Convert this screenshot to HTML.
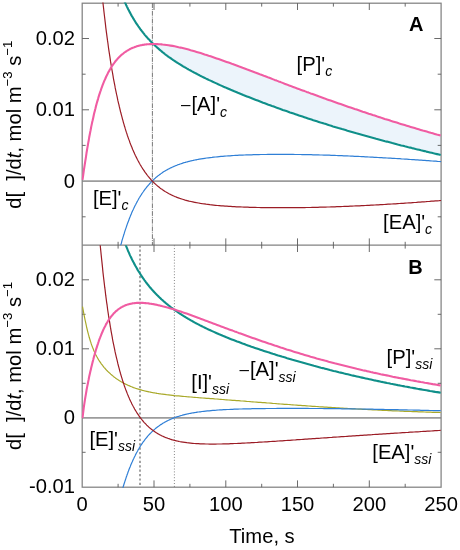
<!DOCTYPE html>
<html><head><meta charset="utf-8"><title>Figure</title><style>html,body{margin:0;padding:0;background:#fff}svg{display:block}</style></head><body>
<svg width="460" height="550" viewBox="0 0 460 550">
<defs><clipPath id="ca"><rect x="81.6" y="2.6" width="360.1" height="242.6"/></clipPath><clipPath id="cb"><rect x="81.6" y="245.2" width="360.1" height="242.6"/></clipPath></defs>
<rect width="460" height="550" fill="#fff"/>
<path d="M152.3 44.0 L154.2 44.0 L156.2 44.1 L158.1 44.1 L160.1 44.3 L162.0 44.4 L163.9 44.7 L165.9 44.9 L167.8 45.2 L169.7 45.5 L171.7 45.8 L173.6 46.1 L175.6 46.5 L177.5 46.9 L179.4 47.4 L181.4 47.8 L183.3 48.3 L185.3 48.7 L187.2 49.2 L189.1 49.8 L191.1 50.3 L193.0 50.8 L194.9 51.4 L196.9 52.0 L198.8 52.6 L200.8 53.2 L202.7 53.8 L204.6 54.4 L206.6 55.0 L208.5 55.6 L210.4 56.3 L212.4 56.9 L214.3 57.6 L216.3 58.3 L218.2 58.9 L220.1 59.6 L222.1 60.3 L224.0 61.0 L226.0 61.7 L227.9 62.4 L229.8 63.1 L231.8 63.8 L233.7 64.5 L235.6 65.2 L237.6 65.9 L239.5 66.6 L241.5 67.3 L243.4 68.1 L245.3 68.8 L247.3 69.5 L249.2 70.2 L251.2 71.0 L253.1 71.7 L255.0 72.4 L257.0 73.2 L258.9 73.9 L260.8 74.6 L262.8 75.4 L264.7 76.1 L266.7 76.9 L268.6 77.6 L270.5 78.3 L272.5 79.1 L274.4 79.8 L276.3 80.5 L278.3 81.3 L280.2 82.0 L282.2 82.7 L284.1 83.5 L286.0 84.2 L288.0 84.9 L289.9 85.7 L291.9 86.4 L293.8 87.1 L295.7 87.8 L297.7 88.6 L299.6 89.3 L301.5 90.0 L303.5 90.7 L305.4 91.4 L307.4 92.1 L309.3 92.9 L311.2 93.6 L313.2 94.3 L315.1 95.0 L317.1 95.7 L319.0 96.4 L320.9 97.1 L322.9 97.8 L324.8 98.5 L326.7 99.2 L328.7 99.9 L330.6 100.6 L332.6 101.3 L334.5 102.0 L336.4 102.6 L338.4 103.3 L340.3 104.0 L342.2 104.7 L344.2 105.4 L346.1 106.0 L348.1 106.7 L350.0 107.4 L351.9 108.0 L353.9 108.7 L355.8 109.4 L357.8 110.0 L359.7 110.7 L361.6 111.3 L363.6 112.0 L365.5 112.6 L367.4 113.3 L369.4 113.9 L371.3 114.5 L373.3 115.2 L375.2 115.8 L377.1 116.4 L379.1 117.1 L381.0 117.7 L383.0 118.3 L384.9 118.9 L386.8 119.5 L388.8 120.2 L390.7 120.8 L392.6 121.4 L394.6 122.0 L396.5 122.6 L398.5 123.2 L400.4 123.8 L402.3 124.4 L404.3 125.0 L406.2 125.6 L408.1 126.1 L410.1 126.7 L412.0 127.3 L414.0 127.9 L415.9 128.5 L417.8 129.0 L419.8 129.6 L421.7 130.2 L423.7 130.7 L425.6 131.3 L427.5 131.9 L429.5 132.4 L431.4 133.0 L433.3 133.5 L435.3 134.1 L437.2 134.6 L439.2 135.1 L441.1 135.6 L441.1 154.9 L439.2 154.6 L437.2 154.1 L435.3 153.7 L433.3 153.2 L431.4 152.8 L429.5 152.3 L427.5 151.8 L425.6 151.4 L423.7 150.9 L421.7 150.5 L419.8 150.0 L417.8 149.5 L415.9 149.0 L414.0 148.6 L412.0 148.1 L410.1 147.6 L408.1 147.1 L406.2 146.6 L404.3 146.1 L402.3 145.7 L400.4 145.2 L398.5 144.7 L396.5 144.2 L394.6 143.7 L392.6 143.2 L390.7 142.7 L388.8 142.1 L386.8 141.6 L384.9 141.1 L383.0 140.6 L381.0 140.1 L379.1 139.6 L377.1 139.0 L375.2 138.5 L373.3 138.0 L371.3 137.5 L369.4 136.9 L367.4 136.4 L365.5 135.8 L363.6 135.3 L361.6 134.8 L359.7 134.2 L357.8 133.7 L355.8 133.1 L353.9 132.5 L351.9 132.0 L350.0 131.4 L348.1 130.9 L346.1 130.3 L344.2 129.7 L342.2 129.1 L340.3 128.6 L338.4 128.0 L336.4 127.4 L334.5 126.8 L332.6 126.2 L330.6 125.6 L328.7 125.0 L326.7 124.4 L324.8 123.8 L322.9 123.2 L320.9 122.6 L319.0 122.0 L317.1 121.4 L315.1 120.7 L313.2 120.1 L311.2 119.5 L309.3 118.9 L307.4 118.2 L305.4 117.6 L303.5 116.9 L301.5 116.3 L299.6 115.6 L297.7 115.0 L295.7 114.3 L293.8 113.7 L291.9 113.0 L289.9 112.3 L288.0 111.7 L286.0 111.0 L284.1 110.3 L282.2 109.6 L280.2 108.9 L278.3 108.2 L276.3 107.6 L274.4 106.9 L272.5 106.1 L270.5 105.4 L268.6 104.7 L266.7 104.0 L264.7 103.3 L262.8 102.6 L260.8 101.8 L258.9 101.1 L257.0 100.3 L255.0 99.6 L253.1 98.8 L251.2 98.1 L249.2 97.3 L247.3 96.6 L245.3 95.8 L243.4 95.0 L241.5 94.2 L239.5 93.4 L237.6 92.6 L235.6 91.8 L233.7 91.0 L231.8 90.2 L229.8 89.4 L227.9 88.5 L226.0 87.7 L224.0 86.9 L222.1 86.0 L220.1 85.1 L218.2 84.3 L216.3 83.4 L214.3 82.5 L212.4 81.6 L210.4 80.7 L208.5 79.8 L206.6 78.8 L204.6 77.9 L202.7 76.9 L200.8 75.9 L198.8 75.0 L196.9 74.0 L194.9 72.9 L193.0 71.9 L191.1 70.9 L189.1 69.8 L187.2 68.7 L185.3 67.6 L183.3 66.4 L181.4 65.3 L179.4 64.1 L177.5 62.8 L175.6 61.6 L173.6 60.3 L171.7 59.0 L169.7 57.6 L167.8 56.2 L165.9 54.8 L163.9 53.3 L162.0 51.7 L160.1 50.1 L158.1 48.4 L156.2 46.7 L154.2 44.9 L152.3 43.0 Z" fill="#ecf4fb" stroke="none"/>
<path d="M82.2 181.1H441.1M82.2 417.8H441.1" stroke="#9c9c9c" stroke-width="1.8" fill="none"/>
<g stroke="#828282" stroke-width="1.25" fill="none">
<rect x="82.2" y="3.2" width="358.9" height="484.0"/>
<line x1="82.2" x2="441.1" y1="245.2" y2="245.2"/>
</g>
<path d="M118.1 3.2v3.4M118.1 241.8v6.8M118.1 487.2v-3.4M154.0 3.2v6.8M154.0 238.4v13.6M154.0 487.2v-6.8M189.9 3.2v3.4M189.9 241.8v6.8M189.9 487.2v-3.4M225.8 3.2v6.8M225.8 238.4v13.6M225.8 487.2v-6.8M261.7 3.2v3.4M261.7 241.8v6.8M261.7 487.2v-3.4M297.5 3.2v6.8M297.5 238.4v13.6M297.5 487.2v-6.8M333.4 3.2v3.4M333.4 241.8v6.8M333.4 487.2v-3.4M369.3 3.2v6.8M369.3 238.4v13.6M369.3 487.2v-6.8M405.2 3.2v3.4M405.2 241.8v6.8M405.2 487.2v-3.4M82.2 38.5h6.8M441.1 38.5h-6.8M82.2 74.2h3.4M441.1 74.2h-3.4M82.2 109.8h6.8M441.1 109.8h-6.8M82.2 145.4h3.4M441.1 145.4h-3.4M82.2 216.8h3.4M441.1 216.8h-3.4M82.2 279.8h6.8M441.1 279.8h-6.8M82.2 314.3h3.4M441.1 314.3h-3.4M82.2 348.8h6.8M441.1 348.8h-6.8M82.2 383.3h3.4M441.1 383.3h-3.4M82.2 452.3h3.4M441.1 452.3h-3.4" stroke="#5a5a5a" stroke-width="0.9" fill="none"/>
<g clip-path="url(#ca)" fill="none" stroke-linejoin="round">
<line x1="152.4" x2="152.4" y1="3.2" y2="245.2" stroke="#555" stroke-width="0.8" stroke-dasharray="4.8 1 0.9 1"/>
<path d="M118.2 255.2 L118.9 252.5 L119.5 249.8 L120.0 248.1 L120.2 247.2 L120.9 244.7 L121.6 242.3 L121.8 241.4 L122.2 239.9 L122.9 237.6 L123.6 235.4 L123.6 235.3 L124.3 233.2 L124.9 231.1 L125.4 229.6 L125.6 229.1 L126.3 227.1 L126.9 225.2 L127.2 224.4 L127.6 223.3 L128.3 221.5 L129.0 219.7 L129.0 219.5 L129.6 218.0 L130.3 216.3 L130.8 215.0 L131.0 214.7 L131.6 213.1 L132.3 211.6 L132.6 210.8 L133.0 210.1 L133.7 208.6 L134.3 207.2 L134.4 207.0 L135.0 205.8 L135.7 204.5 L136.2 203.4 L136.4 203.2 L137.0 201.9 L137.7 200.7 L138.0 200.1 L138.4 199.5 L139.0 198.3 L139.7 197.2 L139.8 197.0 L140.4 196.1 L141.1 195.0 L141.7 194.1 L141.7 194.0 L142.4 193.0 L143.1 192.0 L143.5 191.5 L143.7 191.1 L144.4 190.1 L145.1 189.2 L145.3 189.0 L145.8 188.3 L146.4 187.5 L147.1 186.7 L147.1 186.6 L147.8 185.8 L148.5 185.0 L148.9 184.6 L149.1 184.3 L149.8 183.5 L150.5 182.8 L150.7 182.6 L151.1 182.1 L151.8 181.4 L152.5 180.7 L152.5 180.7 L153.2 180.1 L153.8 179.4 L154.3 179.0 L154.5 178.8 L155.2 178.2 L155.8 177.6 L156.1 177.4 L156.5 177.0 L157.2 176.5 L157.9 175.9 L157.9 175.9 L158.5 175.4 L159.2 174.9 L159.7 174.5 L159.9 174.4 L160.6 173.9 L161.2 173.4 L161.5 173.2 L161.9 173.0 L162.6 172.5 L163.2 172.1 L163.3 172.0 L163.9 171.6 L164.6 171.2 L165.1 170.9 L165.3 170.8 L165.9 170.4 L166.6 170.0 L166.9 169.9 L167.3 169.7 L167.9 169.3 L168.6 168.9 L168.7 168.9 L169.3 168.6 L170.0 168.2 L170.5 168.0 L170.6 167.9 L171.3 167.6 L172.0 167.3 L172.3 167.1 L172.7 167.0 L173.3 166.7 L174.0 166.4 L174.1 166.3 L174.7 166.1 L175.3 165.8 L175.9 165.6 L176.0 165.5 L176.7 165.3 L177.4 165.0 L177.7 164.9 L178.0 164.7 L178.7 164.5 L179.4 164.3 L179.5 164.2 L180.0 164.0 L180.7 163.8 L181.3 163.6 L181.4 163.6 L182.1 163.4 L182.7 163.1 L183.1 163.0 L183.4 162.9 L184.1 162.7 L184.8 162.5 L184.9 162.5 L185.4 162.3 L186.1 162.1 L186.7 162.0 L186.8 162.0 L187.4 161.8 L188.1 161.6 L188.6 161.5 L188.8 161.4 L189.5 161.3 L190.1 161.1 L190.4 161.0 L190.8 160.9 L191.5 160.8 L192.1 160.6 L192.2 160.6 L192.8 160.5 L193.5 160.3 L194.0 160.2 L194.2 160.2 L194.8 160.0 L195.5 159.9 L195.8 159.9 L196.2 159.8 L196.9 159.6 L197.5 159.5 L197.6 159.5 L198.2 159.4 L199.4 159.2 L201.2 158.9 L203.0 158.6 L204.8 158.3 L206.6 158.0 L208.4 157.8 L210.2 157.6 L212.0 157.4 L213.8 157.1 L215.6 157.0 L217.4 156.8 L219.2 156.6 L221.0 156.4 L222.8 156.3 L224.6 156.1 L226.4 156.0 L228.2 155.9 L230.0 155.8 L231.8 155.6 L233.7 155.5 L235.5 155.4 L237.3 155.3 L239.1 155.2 L240.9 155.2 L242.7 155.1 L244.5 155.0 L246.3 154.9 L248.1 154.9 L249.9 154.8 L251.7 154.8 L253.5 154.7 L255.3 154.7 L257.1 154.6 L258.9 154.6 L260.7 154.5 L262.5 154.5 L264.3 154.5 L266.1 154.5 L267.9 154.4 L269.7 154.4 L271.5 154.4 L273.3 154.4 L275.1 154.4 L276.9 154.4 L278.7 154.4 L280.6 154.4 L282.4 154.4 L284.2 154.4 L286.0 154.4 L287.8 154.4 L289.6 154.4 L291.4 154.4 L293.2 154.4 L295.0 154.5 L296.8 154.5 L298.6 154.5 L300.4 154.5 L302.2 154.6 L304.0 154.6 L305.8 154.6 L307.6 154.7 L309.4 154.7 L311.2 154.7 L313.0 154.8 L314.8 154.8 L316.6 154.9 L318.4 154.9 L320.2 155.0 L322.0 155.0 L323.8 155.1 L325.6 155.1 L327.5 155.2 L329.3 155.2 L331.1 155.3 L332.9 155.4 L334.7 155.4 L336.5 155.5 L338.3 155.6 L340.1 155.6 L341.9 155.7 L343.7 155.8 L345.5 155.9 L347.3 155.9 L349.1 156.0 L350.9 156.1 L352.7 156.2 L354.5 156.3 L356.3 156.3 L358.1 156.4 L359.9 156.5 L361.7 156.6 L363.5 156.7 L365.3 156.8 L367.1 156.9 L368.9 157.0 L370.7 157.1 L372.6 157.2 L374.4 157.3 L376.2 157.4 L378.0 157.5 L379.8 157.6 L381.6 157.7 L383.4 157.8 L385.2 157.9 L387.0 158.0 L388.8 158.1 L390.6 158.2 L392.4 158.3 L394.2 158.4 L396.0 158.5 L397.8 158.6 L399.6 158.7 L401.4 158.9 L403.2 159.0 L405.0 159.1 L406.8 159.2 L408.6 159.3 L410.4 159.5 L412.2 159.6 L414.0 159.7 L415.8 159.8 L417.6 159.9 L419.5 160.1 L421.3 160.2 L423.1 160.3 L424.9 160.4 L426.7 160.6 L428.5 160.7 L430.3 160.8 L432.1 161.0 L433.9 161.1 L435.7 161.2 L437.5 161.4 L439.3 161.5 L441.1 161.6" stroke="#2f7fd6" stroke-width="1.2"/>
<path d="M101.8 -9.0 L102.5 -2.3 L103.1 4.2 L103.7 9.3 L103.8 10.4 L104.5 16.3 L105.2 22.1 L105.6 25.6 L105.8 27.6 L106.5 32.9 L107.2 38.1 L107.5 40.4 L107.9 43.0 L108.5 47.8 L109.2 52.4 L109.4 53.7 L109.9 56.9 L110.5 61.2 L111.2 65.4 L111.3 65.8 L111.9 69.5 L112.6 73.4 L113.2 76.9 L113.2 77.2 L113.9 80.9 L114.6 84.4 L115.1 87.0 L115.2 87.9 L115.9 91.2 L116.6 94.5 L117.0 96.2 L117.3 97.6 L117.9 100.7 L118.6 103.6 L118.9 104.7 L119.3 106.5 L120.0 109.3 L120.6 112.0 L120.8 112.5 L121.3 114.6 L122.0 117.2 L122.6 119.7 L122.7 119.7 L123.3 122.1 L124.0 124.4 L124.5 126.3 L124.7 126.7 L125.3 128.9 L126.0 131.1 L126.4 132.4 L126.7 133.2 L127.3 135.2 L128.0 137.1 L128.3 138.1 L128.7 139.1 L129.4 140.9 L130.0 142.7 L130.2 143.2 L130.7 144.5 L131.4 146.2 L132.1 147.8 L132.1 148.0 L132.7 149.5 L133.4 151.0 L134.0 152.4 L134.1 152.5 L134.7 154.0 L135.4 155.5 L135.9 156.5 L136.1 156.9 L136.8 158.2 L137.4 159.5 L137.8 160.3 L138.1 160.8 L138.8 162.1 L139.4 163.3 L139.7 163.8 L140.1 164.5 L140.8 165.6 L141.5 166.7 L141.6 167.0 L142.1 167.8 L142.8 168.9 L143.5 169.9 L143.5 169.9 L144.2 170.9 L144.8 171.9 L145.4 172.7 L145.5 172.8 L146.2 173.7 L146.8 174.6 L147.3 175.2 L147.5 175.5 L148.2 176.4 L148.9 177.2 L149.2 177.6 L149.5 178.0 L150.2 178.7 L150.9 179.5 L151.1 179.7 L151.5 180.2 L152.2 181.0 L152.9 181.6 L153.0 181.7 L153.6 182.3 L154.2 183.0 L154.9 183.6 L154.9 183.6 L155.6 184.2 L156.3 184.9 L156.8 185.3 L156.9 185.4 L157.6 186.0 L158.3 186.6 L158.7 186.9 L158.9 187.1 L159.6 187.6 L160.3 188.2 L160.6 188.4 L161.0 188.7 L161.6 189.1 L162.3 189.6 L162.5 189.7 L163.0 190.1 L163.6 190.5 L164.3 191.0 L164.4 191.0 L165.0 191.4 L165.7 191.8 L166.2 192.1 L166.3 192.2 L167.0 192.6 L167.7 193.0 L168.1 193.2 L168.4 193.3 L169.0 193.7 L169.7 194.1 L170.0 194.2 L170.4 194.4 L171.0 194.7 L171.7 195.1 L171.9 195.2 L172.4 195.4 L173.1 195.7 L173.7 196.0 L173.8 196.0 L174.4 196.3 L175.1 196.6 L175.7 196.8 L175.7 196.8 L176.4 197.1 L177.1 197.4 L177.6 197.6 L177.8 197.6 L178.4 197.9 L179.1 198.1 L179.5 198.3 L179.8 198.4 L180.5 198.6 L181.1 198.8 L181.4 198.9 L181.8 199.0 L183.3 199.5 L185.2 200.1 L187.1 200.6 L189.0 201.1 L190.9 201.5 L192.8 201.9 L194.7 202.3 L196.6 202.7 L198.5 203.0 L200.4 203.4 L202.3 203.7 L204.2 203.9 L206.1 204.2 L207.9 204.4 L209.8 204.7 L211.7 204.9 L213.6 205.1 L215.5 205.3 L217.4 205.5 L219.3 205.6 L221.2 205.8 L223.1 205.9 L225.0 206.1 L226.9 206.2 L228.8 206.3 L230.7 206.4 L232.6 206.6 L234.5 206.7 L236.4 206.8 L238.3 206.8 L240.2 206.9 L242.1 207.0 L244.0 207.1 L245.9 207.2 L247.8 207.2 L249.7 207.3 L251.5 207.3 L253.4 207.4 L255.3 207.4 L257.2 207.5 L259.1 207.5 L261.0 207.6 L262.9 207.6 L264.8 207.6 L266.7 207.6 L268.6 207.7 L270.5 207.7 L272.4 207.7 L274.3 207.7 L276.2 207.7 L278.1 207.7 L280.0 207.7 L281.9 207.7 L283.8 207.7 L285.7 207.7 L287.6 207.7 L289.5 207.7 L291.4 207.7 L293.2 207.7 L295.1 207.7 L297.0 207.7 L298.9 207.6 L300.8 207.6 L302.7 207.6 L304.6 207.6 L306.5 207.5 L308.4 207.5 L310.3 207.5 L312.2 207.4 L314.1 207.4 L316.0 207.3 L317.9 207.3 L319.8 207.2 L321.7 207.2 L323.6 207.1 L325.5 207.1 L327.4 207.0 L329.3 207.0 L331.2 206.9 L333.1 206.9 L335.0 206.8 L336.8 206.7 L338.7 206.7 L340.6 206.6 L342.5 206.5 L344.4 206.4 L346.3 206.4 L348.2 206.3 L350.1 206.2 L352.0 206.1 L353.9 206.0 L355.8 205.9 L357.7 205.9 L359.6 205.8 L361.5 205.7 L363.4 205.6 L365.3 205.5 L367.2 205.4 L369.1 205.3 L371.0 205.2 L372.9 205.1 L374.8 205.0 L376.7 204.9 L378.5 204.8 L380.4 204.7 L382.3 204.6 L384.2 204.5 L386.1 204.3 L388.0 204.2 L389.9 204.1 L391.8 204.0 L393.7 203.9 L395.6 203.8 L397.5 203.6 L399.4 203.5 L401.3 203.4 L403.2 203.3 L405.1 203.1 L407.0 203.0 L408.9 202.9 L410.8 202.8 L412.7 202.6 L414.6 202.5 L416.5 202.4 L418.4 202.2 L420.2 202.1 L422.1 201.9 L424.0 201.8 L425.9 201.7 L427.8 201.5 L429.7 201.4 L431.6 201.2 L433.5 201.1 L435.4 200.9 L437.3 200.8 L439.2 200.7 L441.1 200.5" stroke="#9b1c25" stroke-width="1.2"/>
<path d="M119.5 -10.8 L120.2 -9.1 L120.8 -7.3 L121.3 -6.2 L121.5 -5.6 L122.2 -4.0 L122.9 -2.4 L123.1 -1.8 L123.5 -0.8 L124.2 0.8 L124.9 2.3 L124.9 2.3 L125.6 3.7 L126.2 5.2 L126.7 6.1 L126.9 6.6 L127.6 8.0 L128.2 9.3 L128.5 9.7 L128.9 10.6 L129.6 11.9 L130.3 13.1 L130.3 13.2 L130.9 14.4 L131.6 15.6 L132.1 16.4 L132.3 16.7 L132.9 17.9 L133.6 19.0 L133.9 19.4 L134.3 20.1 L135.0 21.2 L135.6 22.2 L135.6 22.3 L136.3 23.3 L137.0 24.3 L137.4 25.0 L137.7 25.3 L138.3 26.3 L139.0 27.2 L139.2 27.6 L139.7 28.2 L140.3 29.1 L141.0 30.0 L141.0 30.0 L141.7 30.9 L142.4 31.7 L142.8 32.3 L143.0 32.6 L143.7 33.4 L144.4 34.3 L144.6 34.6 L145.0 35.1 L145.7 35.9 L146.4 36.6 L146.4 36.7 L147.1 37.4 L147.7 38.2 L148.2 38.7 L148.4 38.9 L149.1 39.6 L149.8 40.3 L150.0 40.6 L150.4 41.1 L151.1 41.7 L151.8 42.4 L151.8 42.5 L152.4 43.1 L153.1 43.8 L153.6 44.2 L153.8 44.4 L154.5 45.1 L155.1 45.7 L155.4 45.9 L155.8 46.3 L156.5 46.9 L157.1 47.6 L157.2 47.6 L157.8 48.2 L158.5 48.7 L159.0 49.2 L159.2 49.3 L159.8 49.9 L160.5 50.5 L160.8 50.7 L161.2 51.0 L161.9 51.6 L162.5 52.1 L162.6 52.2 L163.2 52.7 L163.9 53.2 L164.4 53.6 L164.5 53.7 L165.2 54.3 L165.9 54.8 L166.2 55.0 L166.6 55.3 L167.2 55.8 L167.9 56.3 L167.9 56.3 L168.6 56.8 L169.2 57.3 L169.7 57.6 L169.9 57.7 L170.6 58.2 L171.3 58.7 L171.5 58.9 L171.9 59.2 L172.6 59.6 L173.3 60.1 L173.3 60.1 L174.0 60.5 L174.6 61.0 L175.1 61.3 L175.3 61.4 L176.0 61.9 L176.6 62.3 L176.9 62.5 L177.3 62.7 L178.0 63.2 L178.7 63.6 L178.7 63.6 L179.3 64.0 L180.0 64.4 L180.5 64.7 L180.7 64.8 L181.3 65.2 L182.0 65.7 L182.3 65.8 L182.7 66.1 L183.4 66.5 L184.0 66.9 L184.1 66.9 L184.7 67.2 L185.4 67.6 L185.9 67.9 L186.1 68.0 L186.7 68.4 L187.4 68.8 L187.7 69.0 L188.1 69.2 L188.7 69.6 L189.4 69.9 L189.5 70.0 L190.1 70.3 L190.8 70.7 L191.3 71.0 L191.4 71.1 L192.1 71.4 L192.8 71.8 L193.1 71.9 L193.4 72.1 L194.1 72.5 L194.8 72.9 L194.9 72.9 L195.5 73.2 L196.1 73.6 L196.7 73.8 L196.8 73.9 L197.5 74.3 L198.2 74.6 L198.5 74.8 L198.8 75.0 L199.5 75.3 L200.2 75.7 L202.0 76.6 L203.8 77.5 L205.6 78.4 L207.4 79.2 L209.2 80.1 L211.0 80.9 L212.8 81.8 L214.6 82.6 L216.4 83.4 L218.2 84.3 L220.0 85.1 L221.8 85.9 L223.6 86.7 L225.4 87.4 L227.2 88.2 L229.0 89.0 L230.8 89.8 L232.5 90.5 L234.3 91.3 L236.1 92.0 L237.9 92.8 L239.7 93.5 L241.5 94.2 L243.3 95.0 L245.1 95.7 L246.9 96.4 L248.7 97.1 L250.5 97.8 L252.3 98.5 L254.1 99.2 L255.9 99.9 L257.7 100.6 L259.5 101.3 L261.3 102.0 L263.1 102.7 L264.8 103.3 L266.6 104.0 L268.4 104.7 L270.2 105.3 L272.0 106.0 L273.8 106.6 L275.6 107.3 L277.4 107.9 L279.2 108.6 L281.0 109.2 L282.8 109.9 L284.6 110.5 L286.4 111.1 L288.2 111.7 L290.0 112.4 L291.8 113.0 L293.6 113.6 L295.4 114.2 L297.1 114.8 L298.9 115.4 L300.7 116.0 L302.5 116.6 L304.3 117.2 L306.1 117.8 L307.9 118.4 L309.7 119.0 L311.5 119.6 L313.3 120.2 L315.1 120.7 L316.9 121.3 L318.7 121.9 L320.5 122.5 L322.3 123.0 L324.1 123.6 L325.9 124.1 L327.7 124.7 L329.4 125.3 L331.2 125.8 L333.0 126.4 L334.8 126.9 L336.6 127.4 L338.4 128.0 L340.2 128.5 L342.0 129.1 L343.8 129.6 L345.6 130.1 L347.4 130.7 L349.2 131.2 L351.0 131.7 L352.8 132.2 L354.6 132.7 L356.4 133.3 L358.2 133.8 L360.0 134.3 L361.7 134.8 L363.5 135.3 L365.3 135.8 L367.1 136.3 L368.9 136.8 L370.7 137.3 L372.5 137.8 L374.3 138.3 L376.1 138.8 L377.9 139.2 L379.7 139.7 L381.5 140.2 L383.3 140.7 L385.1 141.2 L386.9 141.6 L388.7 142.1 L390.5 142.6 L392.3 143.1 L394.0 143.5 L395.8 144.0 L397.6 144.5 L399.4 144.9 L401.2 145.4 L403.0 145.8 L404.8 146.3 L406.6 146.7 L408.4 147.2 L410.2 147.6 L412.0 148.1 L413.8 148.5 L415.6 149.0 L417.4 149.4 L419.2 149.8 L421.0 150.3 L422.8 150.7 L424.6 151.1 L426.3 151.6 L428.1 152.0 L429.9 152.4 L431.7 152.8 L433.5 153.3 L435.3 153.7 L437.1 154.1 L438.9 154.5 L440.7 154.9" stroke="#0f8f89" stroke-width="2.1"/>
<path d="M82.5 179.9 L83.2 175.2 L83.8 170.6 L84.5 166.2 L84.5 166.1 L85.2 161.6 L85.9 157.3 L86.5 153.2 L86.5 153.0 L87.2 148.9 L87.9 144.9 L88.5 141.4 L88.6 141.1 L89.2 137.3 L89.9 133.7 L90.5 130.6 L90.6 130.2 L91.2 126.9 L91.9 123.6 L92.5 120.8 L92.6 120.5 L93.3 117.4 L93.9 114.5 L94.5 112.1 L94.6 111.7 L95.3 109.0 L95.9 106.4 L96.5 104.2 L96.6 103.8 L97.3 101.4 L98.0 99.1 L98.5 97.2 L98.6 96.8 L99.3 94.7 L100.0 92.6 L100.5 91.0 L100.7 90.6 L101.3 88.7 L102.0 86.8 L102.5 85.4 L102.7 85.0 L103.3 83.3 L104.0 81.6 L104.5 80.4 L104.7 80.0 L105.4 78.5 L106.0 77.0 L106.5 76.0 L106.7 75.6 L107.4 74.2 L108.0 72.9 L108.5 72.0 L108.7 71.7 L109.4 70.4 L110.1 69.3 L110.5 68.5 L110.7 68.1 L111.4 67.0 L112.1 66.0 L112.5 65.3 L112.8 65.0 L113.4 64.0 L114.1 63.1 L114.5 62.5 L114.8 62.2 L115.4 61.3 L116.1 60.5 L116.5 60.0 L116.8 59.7 L117.5 58.9 L118.1 58.2 L118.5 57.8 L118.8 57.5 L119.5 56.8 L120.1 56.2 L120.5 55.8 L120.8 55.5 L121.5 54.9 L122.2 54.3 L122.5 54.0 L122.8 53.8 L123.5 53.3 L124.2 52.7 L124.5 52.5 L124.9 52.2 L125.5 51.8 L126.2 51.3 L126.5 51.1 L126.9 50.9 L127.5 50.5 L128.2 50.1 L128.5 49.9 L128.9 49.7 L129.6 49.3 L130.2 49.0 L130.5 48.8 L130.9 48.6 L131.6 48.3 L132.2 48.0 L132.5 47.9 L132.9 47.7 L133.6 47.5 L134.3 47.2 L134.5 47.1 L134.9 47.0 L135.6 46.7 L136.3 46.5 L136.5 46.4 L137.0 46.3 L137.6 46.1 L138.3 45.9 L138.5 45.8 L139.0 45.7 L139.6 45.5 L140.3 45.4 L140.5 45.3 L141.0 45.2 L141.7 45.1 L142.3 45.0 L142.5 44.9 L143.0 44.9 L143.7 44.7 L144.3 44.6 L144.5 44.6 L145.0 44.5 L145.7 44.5 L146.4 44.4 L146.5 44.4 L147.0 44.3 L147.7 44.3 L148.4 44.2 L148.5 44.2 L149.1 44.2 L149.7 44.1 L150.4 44.1 L150.5 44.1 L151.1 44.1 L151.7 44.0 L152.4 44.0 L152.5 44.0 L153.1 44.0 L153.8 44.0 L154.4 44.0 L154.5 44.0 L155.1 44.0 L155.8 44.0 L156.4 44.1 L156.5 44.1 L157.1 44.1 L157.8 44.1 L158.5 44.2 L158.5 44.2 L159.1 44.2 L159.8 44.3 L160.5 44.3 L160.5 44.3 L161.2 44.4 L161.8 44.4 L162.5 44.5 L162.5 44.5 L164.5 44.7 L166.5 45.0 L168.5 45.3 L170.5 45.6 L172.6 45.9 L174.6 46.3 L176.6 46.7 L178.6 47.2 L180.6 47.6 L182.6 48.1 L184.6 48.6 L186.6 49.1 L188.6 49.6 L190.6 50.2 L192.6 50.7 L194.6 51.3 L196.6 51.9 L198.6 52.5 L200.6 53.1 L202.6 53.7 L204.6 54.4 L206.6 55.0 L208.6 55.7 L210.6 56.3 L212.6 57.0 L214.6 57.7 L216.6 58.4 L218.6 59.1 L220.6 59.8 L222.6 60.5 L224.6 61.2 L226.6 61.9 L228.6 62.6 L230.6 63.3 L232.6 64.1 L234.6 64.8 L236.6 65.5 L238.6 66.3 L240.6 67.0 L242.6 67.8 L244.6 68.5 L246.6 69.3 L248.6 70.0 L250.6 70.8 L252.6 71.5 L254.6 72.3 L256.6 73.0 L258.6 73.8 L260.6 74.6 L262.6 75.3 L264.6 76.1 L266.6 76.8 L268.6 77.6 L270.6 78.3 L272.6 79.1 L274.6 79.9 L276.6 80.6 L278.6 81.4 L280.6 82.1 L282.6 82.9 L284.6 83.7 L286.6 84.4 L288.6 85.2 L290.6 85.9 L292.6 86.7 L294.6 87.4 L296.6 88.2 L298.6 88.9 L300.6 89.7 L302.6 90.4 L304.6 91.1 L306.6 91.9 L308.6 92.6 L310.6 93.4 L312.6 94.1 L314.6 94.8 L316.6 95.5 L318.6 96.3 L320.6 97.0 L322.6 97.7 L324.6 98.4 L326.6 99.2 L328.6 99.9 L330.6 100.6 L332.6 101.3 L334.6 102.0 L336.6 102.7 L338.6 103.4 L340.6 104.1 L342.6 104.8 L344.6 105.5 L346.6 106.2 L348.6 106.9 L350.6 107.6 L352.7 108.3 L354.7 109.0 L356.7 109.6 L358.7 110.3 L360.7 111.0 L362.7 111.7 L364.7 112.3 L366.7 113.0 L368.7 113.7 L370.7 114.3 L372.7 115.0 L374.7 115.6 L376.7 116.3 L378.7 116.9 L380.7 117.6 L382.7 118.2 L384.7 118.9 L386.7 119.5 L388.7 120.1 L390.7 120.8 L392.7 121.4 L394.7 122.0 L396.7 122.6 L398.7 123.3 L400.7 123.9 L402.7 124.5 L404.7 125.1 L406.7 125.7 L408.7 126.3 L410.7 126.9 L412.7 127.5 L414.7 128.1 L416.7 128.7 L418.7 129.3 L420.7 129.9 L422.7 130.5 L424.7 131.0 L426.7 131.6 L428.7 132.2 L430.7 132.8 L432.7 133.3 L434.7 133.9 L436.7 134.5 L438.7 135.0 L440.7 135.6" stroke="#f05ca2" stroke-width="2.1"/>
</g>
<g clip-path="url(#cb)" fill="none" stroke-linejoin="round">
<line x1="140" x2="140" y1="245.2" y2="487.2" stroke="#858585" stroke-width="1.5" stroke-dasharray="2.2 2.2"/>
<line x1="174.4" x2="174.4" y1="245.2" y2="487.2" stroke="#666" stroke-width="0.8" stroke-dasharray="1 1.9"/>
<path d="M82.5 306.7 L83.2 310.2 L83.8 313.7 L84.5 317.1 L84.5 317.1 L85.2 320.5 L85.9 323.6 L86.5 326.5 L86.5 326.7 L87.2 329.5 L87.9 332.3 L88.5 334.7 L88.6 334.8 L89.2 337.3 L89.9 339.5 L90.5 341.5 L90.6 341.7 L91.2 343.7 L91.9 345.6 L92.5 347.2 L92.6 347.4 L93.3 349.1 L93.9 350.7 L94.5 352.0 L94.6 352.2 L95.3 353.6 L95.9 355.0 L96.5 356.1 L96.6 356.3 L97.3 357.5 L98.0 358.7 L98.5 359.6 L98.6 359.8 L99.3 360.9 L100.0 361.9 L100.5 362.7 L100.7 362.9 L101.3 363.8 L102.0 364.7 L102.5 365.4 L102.7 365.6 L103.3 366.4 L104.0 367.3 L104.5 367.8 L104.7 368.0 L105.4 368.8 L106.0 369.5 L106.5 370.1 L106.7 370.3 L107.4 371.0 L108.0 371.6 L108.5 372.1 L108.7 372.3 L109.4 372.9 L110.1 373.5 L110.5 373.9 L110.7 374.1 L111.4 374.7 L112.1 375.3 L112.5 375.7 L112.8 375.8 L113.4 376.4 L114.1 376.9 L114.5 377.2 L114.8 377.4 L115.4 377.9 L116.1 378.4 L116.5 378.7 L116.8 378.9 L117.5 379.3 L118.1 379.8 L118.5 380.1 L118.8 380.2 L119.5 380.7 L120.1 381.1 L120.5 381.3 L120.8 381.5 L121.5 381.9 L122.2 382.3 L122.5 382.5 L122.8 382.7 L123.5 383.0 L124.2 383.4 L124.5 383.6 L124.9 383.7 L125.5 384.1 L126.2 384.4 L126.5 384.6 L126.9 384.7 L127.5 385.0 L128.2 385.4 L128.5 385.5 L128.9 385.7 L129.6 385.9 L130.2 386.2 L130.5 386.4 L130.9 386.5 L131.6 386.8 L132.2 387.0 L132.5 387.2 L132.9 387.3 L133.6 387.6 L134.3 387.8 L134.5 387.9 L134.9 388.0 L135.6 388.3 L136.3 388.5 L136.5 388.6 L137.0 388.7 L137.6 388.9 L138.3 389.1 L138.5 389.2 L139.0 389.3 L139.6 389.5 L140.3 389.7 L140.5 389.8 L141.0 389.9 L141.7 390.1 L142.3 390.3 L142.5 390.4 L143.0 390.5 L143.7 390.6 L144.3 390.8 L144.5 390.9 L145.0 391.0 L145.7 391.1 L146.4 391.3 L146.5 391.3 L147.0 391.4 L147.7 391.6 L148.4 391.7 L148.5 391.8 L149.1 391.9 L149.7 392.0 L150.4 392.2 L150.5 392.2 L151.1 392.3 L151.7 392.4 L152.4 392.5 L152.5 392.6 L153.1 392.7 L153.8 392.8 L154.4 392.9 L154.5 392.9 L155.1 393.0 L155.8 393.1 L156.4 393.2 L156.5 393.3 L157.1 393.4 L157.8 393.5 L158.5 393.6 L158.5 393.6 L159.1 393.7 L159.8 393.8 L160.5 393.9 L160.5 393.9 L161.2 394.0 L161.8 394.1 L162.5 394.1 L162.5 394.1 L164.5 394.4 L166.5 394.7 L168.5 394.9 L170.5 395.1 L172.6 395.3 L174.6 395.6 L176.6 395.8 L178.6 395.9 L180.6 396.1 L182.6 396.3 L184.6 396.5 L186.6 396.7 L188.6 396.8 L190.6 397.0 L192.6 397.2 L194.6 397.3 L196.6 397.5 L198.6 397.7 L200.6 397.8 L202.6 398.0 L204.6 398.1 L206.6 398.3 L208.6 398.4 L210.6 398.6 L212.6 398.7 L214.6 398.9 L216.6 399.0 L218.6 399.2 L220.6 399.3 L222.6 399.5 L224.6 399.7 L226.6 399.8 L228.6 400.0 L230.6 400.1 L232.6 400.3 L234.6 400.4 L236.6 400.6 L238.6 400.7 L240.6 400.9 L242.6 401.0 L244.6 401.2 L246.6 401.4 L248.6 401.5 L250.6 401.7 L252.6 401.8 L254.6 402.0 L256.6 402.1 L258.6 402.3 L260.6 402.4 L262.6 402.6 L264.6 402.7 L266.6 402.9 L268.6 403.0 L270.6 403.2 L272.6 403.4 L274.6 403.5 L276.6 403.7 L278.6 403.8 L280.6 404.0 L282.6 404.1 L284.6 404.3 L286.6 404.4 L288.6 404.5 L290.6 404.7 L292.6 404.8 L294.6 405.0 L296.6 405.1 L298.6 405.3 L300.6 405.4 L302.6 405.6 L304.6 405.7 L306.6 405.8 L308.6 406.0 L310.6 406.1 L312.6 406.3 L314.6 406.4 L316.6 406.5 L318.6 406.7 L320.6 406.8 L322.6 406.9 L324.6 407.1 L326.6 407.2 L328.6 407.3 L330.6 407.4 L332.6 407.6 L334.6 407.7 L336.6 407.8 L338.6 407.9 L340.6 408.1 L342.6 408.2 L344.6 408.3 L346.6 408.4 L348.6 408.5 L350.6 408.6 L352.7 408.8 L354.7 408.9 L356.7 409.0 L358.7 409.1 L360.7 409.2 L362.7 409.3 L364.7 409.4 L366.7 409.5 L368.7 409.6 L370.7 409.7 L372.7 409.8 L374.7 409.9 L376.7 410.0 L378.7 410.1 L380.7 410.2 L382.7 410.3 L384.7 410.4 L386.7 410.5 L388.7 410.6 L390.7 410.7 L392.7 410.8 L394.7 410.8 L396.7 410.9 L398.7 411.0 L400.7 411.1 L402.7 411.2 L404.7 411.3 L406.7 411.3 L408.7 411.4 L410.7 411.5 L412.7 411.6 L414.7 411.6 L416.7 411.7 L418.7 411.8 L420.7 411.9 L422.7 411.9 L424.7 412.0 L426.7 412.1 L428.7 412.1 L430.7 412.2 L432.7 412.3 L434.7 412.3 L436.7 412.4 L438.7 412.4 L440.7 412.5" stroke="#a9a92a" stroke-width="1.2"/>
<path d="M119.5 500.3 L120.2 497.7 L120.8 495.1 L121.3 493.5 L121.5 492.7 L122.2 490.3 L122.9 487.9 L123.1 487.2 L123.5 485.7 L124.2 483.5 L124.9 481.4 L124.9 481.4 L125.6 479.3 L126.2 477.3 L126.7 476.0 L126.9 475.3 L127.6 473.5 L128.2 471.6 L128.5 471.0 L128.9 469.8 L129.6 468.1 L130.3 466.4 L130.3 466.4 L130.9 464.8 L131.6 463.2 L132.1 462.1 L132.3 461.7 L132.9 460.2 L133.6 458.7 L133.9 458.2 L134.3 457.3 L135.0 455.9 L135.6 454.6 L135.6 454.6 L136.3 453.3 L137.0 452.0 L137.4 451.2 L137.7 450.8 L138.3 449.6 L139.0 448.5 L139.2 448.1 L139.7 447.4 L140.3 446.3 L141.0 445.2 L141.0 445.2 L141.7 444.2 L142.4 443.2 L142.8 442.5 L143.0 442.2 L143.7 441.3 L144.4 440.4 L144.6 440.1 L145.0 439.5 L145.7 438.6 L146.4 437.8 L146.4 437.8 L147.1 437.0 L147.7 436.2 L148.2 435.7 L148.4 435.4 L149.1 434.7 L149.8 434.0 L150.0 433.7 L150.4 433.3 L151.1 432.6 L151.8 431.9 L151.8 431.9 L152.4 431.3 L153.1 430.6 L153.6 430.2 L153.8 430.0 L154.5 429.4 L155.1 428.9 L155.4 428.6 L155.8 428.3 L156.5 427.8 L157.1 427.2 L157.2 427.2 L157.8 426.7 L158.5 426.2 L159.0 425.9 L159.2 425.7 L159.8 425.3 L160.5 424.8 L160.8 424.6 L161.2 424.4 L161.9 423.9 L162.5 423.5 L162.6 423.5 L163.2 423.1 L163.9 422.7 L164.4 422.4 L164.5 422.3 L165.2 421.9 L165.9 421.6 L166.2 421.4 L166.6 421.2 L167.2 420.9 L167.9 420.5 L167.9 420.5 L168.6 420.2 L169.2 419.9 L169.7 419.7 L169.9 419.6 L170.6 419.3 L171.3 419.0 L171.5 418.9 L171.9 418.7 L172.6 418.4 L173.3 418.2 L173.3 418.2 L174.0 417.9 L174.6 417.7 L175.1 417.5 L175.3 417.4 L176.0 417.2 L176.6 416.9 L176.9 416.8 L177.3 416.7 L178.0 416.5 L178.7 416.3 L178.7 416.3 L179.3 416.1 L180.0 415.9 L180.5 415.7 L180.7 415.7 L181.3 415.5 L182.0 415.3 L182.3 415.2 L182.7 415.1 L183.4 414.9 L184.0 414.8 L184.1 414.7 L184.7 414.6 L185.4 414.4 L185.9 414.3 L186.1 414.3 L186.7 414.1 L187.4 414.0 L187.7 413.9 L188.1 413.8 L188.7 413.7 L189.4 413.5 L189.5 413.5 L190.1 413.4 L190.8 413.3 L191.3 413.2 L191.4 413.2 L192.1 413.0 L192.8 412.9 L193.1 412.9 L193.4 412.8 L194.1 412.7 L194.8 412.6 L194.9 412.6 L195.5 412.5 L196.1 412.3 L196.7 412.3 L196.8 412.2 L197.5 412.1 L198.2 412.0 L198.5 412.0 L198.8 412.0 L199.5 411.9 L200.2 411.8 L202.0 411.5 L203.8 411.3 L205.6 411.1 L207.4 410.9 L209.2 410.8 L211.0 410.6 L212.8 410.4 L214.6 410.3 L216.4 410.2 L218.2 410.0 L220.0 409.9 L221.8 409.8 L223.6 409.7 L225.4 409.6 L227.2 409.5 L229.0 409.5 L230.8 409.4 L232.5 409.3 L234.3 409.2 L236.1 409.2 L237.9 409.1 L239.7 409.0 L241.5 409.0 L243.3 408.9 L245.1 408.9 L246.9 408.9 L248.7 408.8 L250.5 408.8 L252.3 408.7 L254.1 408.7 L255.9 408.7 L257.7 408.6 L259.5 408.6 L261.3 408.6 L263.1 408.6 L264.8 408.6 L266.6 408.5 L268.4 408.5 L270.2 408.5 L272.0 408.5 L273.8 408.5 L275.6 408.5 L277.4 408.4 L279.2 408.4 L281.0 408.4 L282.8 408.4 L284.6 408.4 L286.4 408.4 L288.2 408.4 L290.0 408.4 L291.8 408.4 L293.6 408.4 L295.4 408.4 L297.1 408.4 L298.9 408.4 L300.7 408.4 L302.5 408.4 L304.3 408.4 L306.1 408.4 L307.9 408.4 L309.7 408.5 L311.5 408.5 L313.3 408.5 L315.1 408.5 L316.9 408.5 L318.7 408.5 L320.5 408.5 L322.3 408.5 L324.1 408.6 L325.9 408.6 L327.7 408.6 L329.4 408.6 L331.2 408.6 L333.0 408.6 L334.8 408.7 L336.6 408.7 L338.4 408.7 L340.2 408.7 L342.0 408.8 L343.8 408.8 L345.6 408.8 L347.4 408.8 L349.2 408.8 L351.0 408.9 L352.8 408.9 L354.6 408.9 L356.4 409.0 L358.2 409.0 L360.0 409.0 L361.7 409.0 L363.5 409.1 L365.3 409.1 L367.1 409.1 L368.9 409.2 L370.7 409.2 L372.5 409.2 L374.3 409.3 L376.1 409.3 L377.9 409.3 L379.7 409.4 L381.5 409.4 L383.3 409.4 L385.1 409.5 L386.9 409.5 L388.7 409.5 L390.5 409.6 L392.3 409.6 L394.0 409.6 L395.8 409.7 L397.6 409.7 L399.4 409.8 L401.2 409.8 L403.0 409.8 L404.8 409.9 L406.6 409.9 L408.4 410.0 L410.2 410.0 L412.0 410.0 L413.8 410.1 L415.6 410.1 L417.4 410.2 L419.2 410.2 L421.0 410.3 L422.8 410.3 L424.6 410.3 L426.3 410.4 L428.1 410.4 L429.9 410.5 L431.7 410.5 L433.5 410.6 L435.3 410.6 L437.1 410.6 L438.9 410.7 L440.7 410.7" stroke="#2f7fd6" stroke-width="1.2"/>
<path d="M99.0 231.0 L99.7 238.7 L100.3 246.1 L100.9 252.0 L101.0 253.1 L101.7 259.9 L102.4 266.4 L102.8 270.6 L103.0 272.6 L103.7 278.6 L104.4 284.4 L104.7 287.2 L105.1 289.9 L105.7 295.2 L106.4 300.3 L106.6 302.1 L107.1 305.2 L107.7 310.0 L108.4 314.5 L108.5 315.4 L109.1 318.9 L109.8 323.1 L110.4 327.2 L110.5 327.3 L111.1 331.1 L111.8 334.9 L112.4 338.1 L112.4 338.5 L113.1 342.1 L113.8 345.4 L114.3 347.8 L114.5 348.7 L115.1 351.9 L115.8 354.9 L116.2 356.6 L116.5 357.9 L117.2 360.7 L117.8 363.4 L118.1 364.5 L118.5 366.1 L119.2 368.6 L119.8 371.1 L120.0 371.7 L120.5 373.5 L121.2 375.8 L121.9 378.1 L121.9 378.2 L122.5 380.2 L123.2 382.3 L123.8 384.1 L123.9 384.3 L124.5 386.3 L125.2 388.1 L125.7 389.5 L125.9 390.0 L126.6 391.7 L127.2 393.4 L127.6 394.4 L127.9 395.1 L128.6 396.7 L129.3 398.2 L129.5 398.9 L129.9 399.7 L130.6 401.2 L131.3 402.6 L131.5 403.0 L131.9 404.0 L132.6 405.3 L133.3 406.5 L133.4 406.7 L134.0 407.8 L134.6 409.0 L135.3 410.1 L135.3 410.1 L136.0 411.3 L136.6 412.3 L137.2 413.2 L137.3 413.4 L138.0 414.4 L138.7 415.4 L139.1 416.0 L139.3 416.4 L140.0 417.3 L140.7 418.2 L141.0 418.6 L141.4 419.0 L142.0 419.9 L142.7 420.7 L142.9 421.0 L143.4 421.5 L144.0 422.3 L144.7 423.0 L144.8 423.1 L145.4 423.7 L146.1 424.4 L146.7 425.1 L146.7 425.1 L147.4 425.8 L148.1 426.4 L148.6 426.9 L148.7 427.0 L149.4 427.6 L150.1 428.2 L150.5 428.6 L150.8 428.7 L151.4 429.3 L152.1 429.8 L152.5 430.1 L152.8 430.3 L153.5 430.8 L154.1 431.3 L154.4 431.4 L154.8 431.8 L155.5 432.2 L156.1 432.6 L156.3 432.7 L156.8 433.1 L157.5 433.5 L158.2 433.9 L158.2 433.9 L158.8 434.2 L159.5 434.6 L160.1 434.9 L160.2 435.0 L160.8 435.3 L161.5 435.7 L162.0 435.9 L162.2 436.0 L162.9 436.3 L163.5 436.6 L163.9 436.8 L164.2 436.9 L164.9 437.2 L165.6 437.5 L165.8 437.6 L166.2 437.7 L166.9 438.0 L167.6 438.2 L167.7 438.3 L168.2 438.5 L168.9 438.7 L169.6 438.9 L169.6 439.0 L170.3 439.2 L170.9 439.4 L171.5 439.6 L171.6 439.6 L172.3 439.8 L172.9 440.0 L173.4 440.1 L173.6 440.2 L174.3 440.3 L175.0 440.5 L175.4 440.6 L175.6 440.7 L176.3 440.8 L177.0 441.0 L177.3 441.0 L177.7 441.1 L178.3 441.3 L179.0 441.4 L179.2 441.5 L181.1 441.8 L183.0 442.1 L184.9 442.4 L186.8 442.7 L188.7 442.9 L190.6 443.1 L192.5 443.3 L194.4 443.5 L196.4 443.6 L198.3 443.7 L200.2 443.8 L202.1 443.9 L204.0 443.9 L205.9 444.0 L207.8 444.0 L209.7 444.1 L211.6 444.1 L213.5 444.1 L215.4 444.1 L217.4 444.0 L219.3 444.0 L221.2 444.0 L223.1 443.9 L225.0 443.9 L226.9 443.8 L228.8 443.8 L230.7 443.7 L232.6 443.6 L234.5 443.5 L236.4 443.5 L238.4 443.4 L240.3 443.3 L242.2 443.2 L244.1 443.1 L246.0 443.0 L247.9 442.9 L249.8 442.8 L251.7 442.7 L253.6 442.6 L255.5 442.5 L257.4 442.4 L259.4 442.2 L261.3 442.1 L263.2 442.0 L265.1 441.9 L267.0 441.8 L268.9 441.6 L270.8 441.5 L272.7 441.4 L274.6 441.3 L276.5 441.2 L278.4 441.0 L280.3 440.9 L282.3 440.8 L284.2 440.6 L286.1 440.5 L288.0 440.4 L289.9 440.3 L291.8 440.1 L293.7 440.0 L295.6 439.9 L297.5 439.7 L299.4 439.6 L301.3 439.5 L303.3 439.3 L305.2 439.2 L307.1 439.1 L309.0 438.9 L310.9 438.8 L312.8 438.7 L314.7 438.6 L316.6 438.4 L318.5 438.3 L320.4 438.2 L322.3 438.0 L324.3 437.9 L326.2 437.8 L328.1 437.6 L330.0 437.5 L331.9 437.4 L333.8 437.2 L335.7 437.1 L337.6 437.0 L339.5 436.8 L341.4 436.7 L343.3 436.6 L345.3 436.5 L347.2 436.3 L349.1 436.2 L351.0 436.1 L352.9 435.9 L354.8 435.8 L356.7 435.7 L358.6 435.6 L360.5 435.4 L362.4 435.3 L364.3 435.2 L366.3 435.1 L368.2 434.9 L370.1 434.8 L372.0 434.7 L373.9 434.5 L375.8 434.4 L377.7 434.3 L379.6 434.2 L381.5 434.1 L383.4 433.9 L385.3 433.8 L387.2 433.7 L389.2 433.6 L391.1 433.4 L393.0 433.3 L394.9 433.2 L396.8 433.1 L398.7 433.0 L400.6 432.8 L402.5 432.7 L404.4 432.6 L406.3 432.5 L408.2 432.4 L410.2 432.2 L412.1 432.1 L414.0 432.0 L415.9 431.9 L417.8 431.8 L419.7 431.7 L421.6 431.5 L423.5 431.4 L425.4 431.3 L427.3 431.2 L429.2 431.1 L431.2 431.0 L433.1 430.8 L435.0 430.7 L436.9 430.6 L438.8 430.5 L440.7 430.4" stroke="#9b1c25" stroke-width="1.2"/>
<path d="M121.0 232.0 L121.7 234.0 L122.3 236.0 L122.8 237.2 L123.0 237.9 L123.7 239.8 L124.4 241.6 L124.6 242.1 L125.0 243.4 L125.7 245.1 L126.4 246.7 L126.4 246.8 L127.1 248.4 L127.7 250.0 L128.1 251.0 L128.4 251.6 L129.1 253.1 L129.7 254.6 L129.9 255.0 L130.4 256.1 L131.1 257.5 L131.7 258.8 L131.8 258.9 L132.4 260.2 L133.1 261.5 L133.5 262.3 L133.8 262.8 L134.4 264.1 L135.1 265.3 L135.3 265.7 L135.8 266.6 L136.5 267.8 L137.1 268.8 L137.1 268.9 L137.8 270.1 L138.5 271.2 L138.9 271.8 L139.2 272.3 L139.8 273.3 L140.5 274.4 L140.6 274.6 L141.2 275.4 L141.8 276.4 L142.4 277.3 L142.5 277.4 L143.2 278.4 L143.9 279.3 L144.2 279.8 L144.5 280.3 L145.2 281.2 L145.9 282.1 L146.0 282.3 L146.5 283.0 L147.2 283.8 L147.8 284.6 L147.9 284.7 L148.6 285.5 L149.2 286.4 L149.6 286.8 L149.9 287.2 L150.6 288.0 L151.3 288.8 L151.4 288.9 L151.9 289.5 L152.6 290.3 L153.1 290.9 L153.3 291.0 L153.9 291.8 L154.6 292.5 L154.9 292.8 L155.3 293.2 L156.0 293.9 L156.6 294.6 L156.7 294.7 L157.3 295.3 L158.0 295.9 L158.5 296.5 L158.6 296.6 L159.3 297.3 L160.0 297.9 L160.3 298.2 L160.7 298.5 L161.3 299.2 L162.0 299.8 L162.1 299.8 L162.7 300.4 L163.4 301.0 L163.9 301.4 L164.0 301.6 L164.7 302.1 L165.4 302.7 L165.7 303.0 L166.0 303.3 L166.7 303.9 L167.4 304.4 L167.4 304.4 L168.1 305.0 L168.7 305.5 L169.2 305.9 L169.4 306.0 L170.1 306.6 L170.7 307.1 L171.0 307.3 L171.4 307.6 L172.1 308.1 L172.8 308.6 L172.8 308.6 L173.4 309.1 L174.1 309.6 L174.6 309.9 L174.8 310.1 L175.5 310.6 L176.1 311.0 L176.4 311.2 L176.8 311.5 L177.5 312.0 L178.1 312.4 L178.2 312.4 L178.8 312.9 L179.5 313.3 L179.9 313.6 L180.2 313.8 L180.8 314.2 L181.5 314.7 L181.7 314.8 L182.2 315.1 L182.8 315.5 L183.5 315.9 L183.5 315.9 L184.2 316.4 L184.9 316.8 L185.3 317.0 L185.5 317.2 L186.2 317.6 L186.9 318.0 L187.1 318.1 L187.6 318.4 L188.2 318.8 L188.9 319.2 L188.9 319.2 L189.6 319.6 L190.2 320.0 L190.7 320.2 L190.9 320.4 L191.6 320.7 L192.3 321.1 L192.4 321.2 L192.9 321.5 L193.6 321.9 L194.2 322.2 L194.3 322.2 L194.9 322.6 L195.6 323.0 L196.0 323.2 L196.3 323.3 L197.0 323.7 L197.6 324.0 L197.8 324.1 L198.3 324.4 L199.0 324.7 L199.6 325.1 L199.7 325.1 L200.3 325.4 L201.0 325.8 L201.4 326.0 L203.2 326.9 L204.9 327.7 L206.7 328.6 L208.5 329.5 L210.3 330.3 L212.1 331.1 L213.9 331.9 L215.7 332.7 L217.4 333.5 L219.2 334.3 L221.0 335.0 L222.8 335.8 L224.6 336.5 L226.4 337.3 L228.2 338.0 L229.9 338.7 L231.7 339.4 L233.5 340.1 L235.3 340.8 L237.1 341.5 L238.9 342.1 L240.7 342.8 L242.5 343.5 L244.2 344.1 L246.0 344.8 L247.8 345.4 L249.6 346.0 L251.4 346.7 L253.2 347.3 L255.0 347.9 L256.7 348.5 L258.5 349.1 L260.3 349.7 L262.1 350.3 L263.9 350.9 L265.7 351.5 L267.5 352.1 L269.2 352.6 L271.0 353.2 L272.8 353.8 L274.6 354.3 L276.4 354.9 L278.2 355.5 L280.0 356.0 L281.7 356.6 L283.5 357.1 L285.3 357.6 L287.1 358.2 L288.9 358.7 L290.7 359.2 L292.5 359.8 L294.2 360.3 L296.0 360.8 L297.8 361.3 L299.6 361.8 L301.4 362.3 L303.2 362.8 L305.0 363.3 L306.7 363.8 L308.5 364.3 L310.3 364.8 L312.1 365.3 L313.9 365.8 L315.7 366.2 L317.5 366.7 L319.2 367.2 L321.0 367.7 L322.8 368.1 L324.6 368.6 L326.4 369.0 L328.2 369.5 L330.0 370.0 L331.8 370.4 L333.5 370.9 L335.3 371.3 L337.1 371.7 L338.9 372.2 L340.7 372.6 L342.5 373.0 L344.3 373.5 L346.0 373.9 L347.8 374.3 L349.6 374.7 L351.4 375.2 L353.2 375.6 L355.0 376.0 L356.8 376.4 L358.5 376.8 L360.3 377.2 L362.1 377.6 L363.9 378.0 L365.7 378.4 L367.5 378.8 L369.3 379.2 L371.0 379.6 L372.8 380.0 L374.6 380.4 L376.4 380.7 L378.2 381.1 L380.0 381.5 L381.8 381.9 L383.5 382.2 L385.3 382.6 L387.1 383.0 L388.9 383.3 L390.7 383.7 L392.5 384.0 L394.3 384.4 L396.0 384.7 L397.8 385.1 L399.6 385.4 L401.4 385.8 L403.2 386.1 L405.0 386.5 L406.8 386.8 L408.6 387.1 L410.3 387.5 L412.1 387.8 L413.9 388.1 L415.7 388.4 L417.5 388.8 L419.3 389.1 L421.1 389.4 L422.8 389.7 L424.6 390.0 L426.4 390.3 L428.2 390.6 L430.0 391.0 L431.8 391.3 L433.6 391.6 L435.3 391.9 L437.1 392.1 L438.9 392.4 L440.7 392.7" stroke="#0f8f89" stroke-width="2.1"/>
<path d="M82.5 418.1 L83.2 412.4 L83.8 407.3 L84.5 402.7 L84.5 402.6 L85.2 398.2 L85.9 394.1 L86.5 390.5 L86.5 390.3 L87.2 386.6 L87.9 383.2 L88.5 380.1 L88.6 379.8 L89.2 376.6 L89.9 373.5 L90.5 370.8 L90.6 370.6 L91.2 367.7 L91.9 364.9 L92.5 362.5 L92.6 362.2 L93.3 359.6 L93.9 357.0 L94.5 354.9 L94.6 354.6 L95.3 352.2 L95.9 350.0 L96.5 348.1 L96.6 347.8 L97.3 345.6 L98.0 343.6 L98.5 342.0 L98.6 341.6 L99.3 339.7 L100.0 337.9 L100.5 336.5 L100.7 336.2 L101.3 334.5 L102.0 332.8 L102.5 331.7 L102.7 331.3 L103.3 329.8 L104.0 328.4 L104.5 327.3 L104.7 327.0 L105.4 325.7 L106.0 324.4 L106.5 323.6 L106.7 323.2 L107.4 322.1 L108.0 321.0 L108.5 320.2 L108.7 319.9 L109.4 318.9 L110.1 318.0 L110.5 317.4 L110.7 317.1 L111.4 316.2 L112.1 315.4 L112.5 314.8 L112.8 314.6 L113.4 313.8 L114.1 313.1 L114.5 312.7 L114.8 312.4 L115.4 311.8 L116.1 311.1 L116.5 310.8 L116.8 310.6 L117.5 310.0 L118.1 309.5 L118.5 309.2 L118.8 309.0 L119.5 308.5 L120.1 308.1 L120.5 307.8 L120.8 307.6 L121.5 307.2 L122.2 306.9 L122.5 306.7 L122.8 306.5 L123.5 306.2 L124.2 305.9 L124.5 305.7 L124.9 305.6 L125.5 305.3 L126.2 305.0 L126.5 304.9 L126.9 304.8 L127.5 304.6 L128.2 304.4 L128.5 304.3 L128.9 304.2 L129.6 304.0 L130.2 303.9 L130.5 303.8 L130.9 303.7 L131.6 303.6 L132.2 303.4 L132.5 303.4 L132.9 303.3 L133.6 303.2 L134.3 303.2 L134.5 303.1 L134.9 303.1 L135.6 303.0 L136.3 303.0 L136.5 302.9 L137.0 302.9 L137.6 302.9 L138.3 302.9 L138.5 302.9 L139.0 302.8 L139.6 302.8 L140.3 302.8 L140.5 302.8 L141.0 302.8 L141.7 302.9 L142.3 302.9 L142.5 302.9 L143.0 302.9 L143.7 303.0 L144.3 303.0 L144.5 303.0 L145.0 303.1 L145.7 303.1 L146.4 303.2 L146.5 303.2 L147.0 303.3 L147.7 303.3 L148.4 303.4 L148.5 303.4 L149.1 303.5 L149.7 303.6 L150.4 303.7 L150.5 303.7 L151.1 303.8 L151.7 303.9 L152.4 304.0 L152.5 304.0 L153.1 304.1 L153.8 304.3 L154.4 304.4 L154.5 304.4 L155.1 304.5 L155.8 304.6 L156.4 304.8 L156.5 304.8 L157.1 304.9 L157.8 305.1 L158.5 305.2 L158.5 305.2 L159.1 305.4 L159.8 305.5 L160.5 305.7 L160.5 305.7 L161.2 305.9 L161.8 306.0 L162.5 306.2 L162.5 306.2 L164.5 306.7 L166.5 307.3 L168.5 307.8 L170.5 308.4 L172.6 309.0 L174.6 309.6 L176.6 310.3 L178.6 310.9 L180.6 311.6 L182.6 312.3 L184.6 312.9 L186.6 313.6 L188.6 314.3 L190.6 315.0 L192.6 315.8 L194.6 316.5 L196.6 317.2 L198.6 317.9 L200.6 318.7 L202.6 319.4 L204.6 320.2 L206.6 320.9 L208.6 321.7 L210.6 322.4 L212.6 323.2 L214.6 323.9 L216.6 324.7 L218.6 325.4 L220.6 326.2 L222.6 326.9 L224.6 327.7 L226.6 328.4 L228.6 329.2 L230.6 329.9 L232.6 330.6 L234.6 331.4 L236.6 332.1 L238.6 332.9 L240.6 333.6 L242.6 334.3 L244.6 335.0 L246.6 335.8 L248.6 336.5 L250.6 337.2 L252.6 337.9 L254.6 338.6 L256.6 339.3 L258.6 340.0 L260.6 340.7 L262.6 341.4 L264.6 342.1 L266.6 342.8 L268.6 343.5 L270.6 344.1 L272.6 344.8 L274.6 345.5 L276.6 346.1 L278.6 346.8 L280.6 347.5 L282.6 348.1 L284.6 348.7 L286.6 349.4 L288.6 350.0 L290.6 350.6 L292.6 351.3 L294.6 351.9 L296.6 352.5 L298.6 353.1 L300.6 353.7 L302.6 354.3 L304.6 354.9 L306.6 355.5 L308.6 356.1 L310.6 356.7 L312.6 357.2 L314.6 357.8 L316.6 358.4 L318.6 358.9 L320.6 359.5 L322.6 360.0 L324.6 360.6 L326.6 361.1 L328.6 361.7 L330.6 362.2 L332.6 362.7 L334.6 363.3 L336.6 363.8 L338.6 364.3 L340.6 364.8 L342.6 365.3 L344.6 365.8 L346.6 366.3 L348.6 366.8 L350.6 367.3 L352.7 367.8 L354.7 368.3 L356.7 368.8 L358.7 369.2 L360.7 369.7 L362.7 370.2 L364.7 370.6 L366.7 371.1 L368.7 371.5 L370.7 372.0 L372.7 372.4 L374.7 372.9 L376.7 373.3 L378.7 373.7 L380.7 374.2 L382.7 374.6 L384.7 375.0 L386.7 375.4 L388.7 375.8 L390.7 376.2 L392.7 376.7 L394.7 377.1 L396.7 377.5 L398.7 377.9 L400.7 378.2 L402.7 378.6 L404.7 379.0 L406.7 379.4 L408.7 379.8 L410.7 380.2 L412.7 380.5 L414.7 380.9 L416.7 381.3 L418.7 381.6 L420.7 382.0 L422.7 382.3 L424.7 382.7 L426.7 383.0 L428.7 383.4 L430.7 383.7 L432.7 384.1 L434.7 384.4 L436.7 384.7 L438.7 385.1 L440.7 385.4" stroke="#f05ca2" stroke-width="2.1"/>
</g>
<g font-family="'Liberation Sans', sans-serif" font-size="20.2" fill="#000">
<text x="75" y="45.1" text-anchor="end">0.02</text>
<text x="75" y="116.4" text-anchor="end">0.01</text>
<text x="75" y="187.7" text-anchor="end">0</text>
<text x="75" y="286.4" text-anchor="end">0.02</text>
<text x="75" y="355.4" text-anchor="end">0.01</text>
<text x="75" y="424.4" text-anchor="end">0</text>
<text x="75" y="493.4" text-anchor="end">-0.01</text>
<text x="82.2" y="510.6" text-anchor="middle">0</text>
<text x="154.0" y="510.6" text-anchor="middle">50</text>
<text x="225.8" y="510.6" text-anchor="middle">100</text>
<text x="297.5" y="510.6" text-anchor="middle">150</text>
<text x="369.3" y="510.6" text-anchor="middle">200</text>
<text x="441.1" y="510.6" text-anchor="middle">250</text>
<text x="262" y="542.8" text-anchor="middle">Time, s</text>
<text transform="translate(20.5 124.7) rotate(-90)" text-anchor="middle">d[&#160;&#160;]/d<tspan font-style="italic">t</tspan>, mol m<tspan font-size="13.2" dy="-8.9">−3</tspan><tspan dy="8.9"> s</tspan><tspan font-size="13.2" dy="-8.9">−1</tspan></text>
<text transform="translate(20.5 366.0) rotate(-90)" text-anchor="middle">d[&#160;&#160;]/d<tspan font-style="italic">t</tspan>, mol m<tspan font-size="13.2" dy="-8.9">−3</tspan><tspan dy="8.9"> s</tspan><tspan font-size="13.2" dy="-8.9">−1</tspan></text>
<text x="409" y="31.3" font-weight="bold" font-size="20">A</text>
<text x="408.2" y="274.2" font-weight="bold" font-size="20">B</text>
<text x="296.6" y="71.0">[P]'<tspan font-style="italic" font-size="14" dy="5.4" dx="0">c</tspan></text>
<text x="180.9" y="111.3"><tspan font-size="17" dy="-0.9">–</tspan><tspan dy="0.9" dx="1.1">[A]'</tspan><tspan font-style="italic" font-size="14" dy="5.4" dx="0">c</tspan></text>
<text x="92.9" y="204.8">[E]'<tspan font-style="italic" font-size="14" dy="5.4" dx="0">c</tspan></text>
<text x="383.1" y="228.7">[EA]'<tspan font-style="italic" font-size="14" dy="5.4" dx="0">c</tspan></text>
<text x="386.6" y="364.0">[P]'<tspan font-style="italic" font-size="14" dy="5.4" dx="0">ssi</tspan></text>
<text x="239.4" y="376.2"><tspan font-size="17" dy="-0.9">–</tspan><tspan dy="0.9" dx="1.1">[A]'</tspan><tspan font-style="italic" font-size="14" dy="5.4" dx="0">ssi</tspan></text>
<text x="191.3" y="389.0">[I]'<tspan font-style="italic" font-size="14" dy="5.4" dx="0">ssi</tspan></text>
<text x="89.4" y="445.9">[E]'<tspan font-style="italic" font-size="14" dy="5.4" dx="0">ssi</tspan></text>
<text x="372.3" y="458.7">[EA]'<tspan font-style="italic" font-size="14" dy="5.4" dx="0">ssi</tspan></text>
</g>
</svg>
</body></html>
